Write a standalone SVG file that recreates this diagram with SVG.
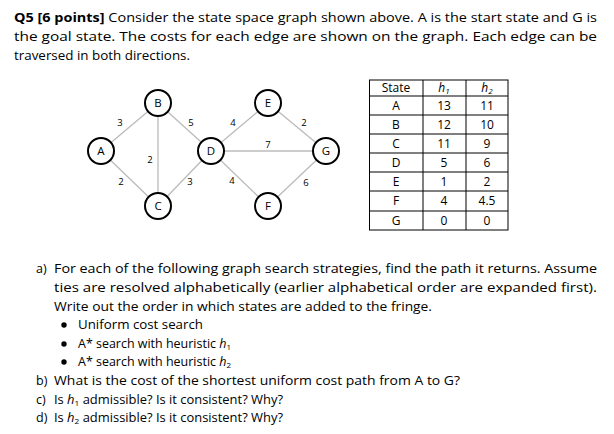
<svg xmlns="http://www.w3.org/2000/svg" width="614" height="434" viewBox="0 0 614 434">
<style>
text{font-family:"Open Sans","Liberation Sans",sans-serif;fill:#000}
.p{font-size:12.5px}
.n circle{fill:#fff;stroke:#000;stroke-width:2}
.n text{font-size:11.5px;text-anchor:middle}
.e line{stroke:#bbb;stroke-width:1.3}
.w{font-size:9.5px;text-anchor:middle}
.t{font-size:12px;text-anchor:middle}
.g line{stroke:#000;stroke-width:1}
</style>
<rect width="614" height="434" fill="#fff"/>
<text class="p" x="14" y="22" textLength="583" lengthAdjust="spacingAndGlyphs"><tspan font-weight="bold">Q5 [6 points]</tspan> Consider the state space graph shown above. A is the start state and G is</text>
<text class="p" x="14" y="41" textLength="583" lengthAdjust="spacingAndGlyphs">the goal state. The costs for each edge are shown on the graph. Each edge can be</text>
<text class="p" x="14" y="60" textLength="176" lengthAdjust="spacingAndGlyphs">traversed in both directions.</text>
<g id="connectors" class="e">
<line x1="101" y1="151" x2="158" y2="103"/>
<line x1="101" y1="151" x2="158" y2="206"/>
<line x1="158" y1="103" x2="158" y2="206"/>
<line x1="158" y1="103" x2="211" y2="151"/>
<line x1="158" y1="206" x2="211" y2="151"/>
<line x1="211" y1="151" x2="268" y2="103"/>
<line x1="211" y1="151" x2="326" y2="151"/>
<line x1="211" y1="151" x2="268" y2="206"/>
<line x1="268" y1="103" x2="326" y2="151"/>
<line x1="268" y1="206" x2="326" y2="151"/>
</g>
<g>
<text class="w" x="120" y="126">3</text>
<text class="w" x="121" y="185">2</text>
<text class="w" x="150" y="163">2</text>
<text class="w" x="191" y="126">5</text>
<text class="w" x="190" y="185">3</text>
<text class="w" x="233" y="126">4</text>
<text class="w" x="268" y="148">7</text>
<text class="w" x="232" y="184">4</text>
<text class="w" x="304" y="126">2</text>
<text class="w" x="306" y="186">6</text>
</g>
<g id="A" class="n"><circle cx="101" cy="151" r="13"/><text x="101" y="155">A</text></g>
<g id="B" class="n"><circle cx="158" cy="103" r="13"/><text x="158" y="107">B</text></g>
<g id="C" class="n"><circle cx="158" cy="206" r="13"/><text x="158" y="210">C</text></g>
<g id="D" class="n"><circle cx="211" cy="151" r="13"/><text x="211" y="155">D</text></g>
<g id="E" class="n"><circle cx="268" cy="103" r="13"/><text x="268" y="107">E</text></g>
<g id="F" class="n"><circle cx="268" cy="206" r="13"/><text x="268" y="210">F</text></g>
<g id="G" class="n"><circle cx="326" cy="151" r="13"/><text x="326" y="155">G</text></g>
<g id="table" class="g">
<rect x="369.5" y="80" width="138.5" height="150" fill="none" stroke="#000"/>
<line x1="423" y1="80" x2="423" y2="230"/>
<line x1="466" y1="80" x2="466" y2="230"/>
<line x1="369.5" y1="96" x2="508" y2="96"/>
<line x1="369.5" y1="115" x2="508" y2="115"/>
<line x1="369.5" y1="134" x2="508" y2="134"/>
<line x1="369.5" y1="153" x2="508" y2="153"/>
<line x1="369.5" y1="172" x2="508" y2="172"/>
<line x1="369.5" y1="191" x2="508" y2="191"/>
<line x1="369.5" y1="211" x2="508" y2="211"/>
<text class="t" x="396" y="92">State</text>
<text class="t" x="444" y="92" font-style="italic">h<tspan font-size="8" dy="2">1</tspan></text>
<text class="t" x="487" y="92" font-style="italic">h<tspan font-size="8" dy="2">2</tspan></text>
<text class="t" x="396" y="110">A</text><text class="t" x="444" y="110">13</text><text class="t" x="487" y="110">11</text>
<text class="t" x="396" y="129">B</text><text class="t" x="444" y="129">12</text><text class="t" x="487" y="129">10</text>
<text class="t" x="396" y="148">C</text><text class="t" x="444" y="148">11</text><text class="t" x="487" y="148">9</text>
<text class="t" x="396" y="167">D</text><text class="t" x="444" y="167">5</text><text class="t" x="487" y="167">6</text>
<text class="t" x="396" y="186">E</text><text class="t" x="444" y="186">1</text><text class="t" x="487" y="186">2</text>
<text class="t" x="396" y="205">F</text><text class="t" x="444" y="205">4</text><text class="t" x="487" y="205">4.5</text>
<text class="t" x="396" y="225">G</text><text class="t" x="444" y="225">0</text><text class="t" x="487" y="225">0</text>
</g>
<text class="p" x="36" y="273">a)</text><text class="p" x="54" y="273" textLength="543" lengthAdjust="spacingAndGlyphs">For each of the following graph search strategies, find the path it returns. Assume</text>
<text class="p" x="54" y="292" textLength="543" lengthAdjust="spacingAndGlyphs">ties are resolved alphabetically (earlier alphabetical order are expanded first).</text>
<text class="p" x="54" y="311" textLength="378" lengthAdjust="spacingAndGlyphs">Write out the order in which states are added to the fringe.</text>
<circle cx="64" cy="325" r="2.7"/><text class="p" x="78" y="329" textLength="125" lengthAdjust="spacingAndGlyphs">Uniform cost search</text>
<circle cx="64" cy="344" r="2.7"/><text class="p" x="78" y="348" textLength="153" lengthAdjust="spacingAndGlyphs">A* search with heuristic <tspan font-style="italic">h</tspan><tspan font-size="8" dy="2">1</tspan></text>
<circle cx="64" cy="362" r="2.7"/><text class="p" x="78" y="366" textLength="153" lengthAdjust="spacingAndGlyphs">A* search with heuristic <tspan font-style="italic">h</tspan><tspan font-size="8" dy="2">2</tspan></text>
<text class="p" x="36" y="385">b)</text><text class="p" x="54" y="385" textLength="406" lengthAdjust="spacingAndGlyphs">What is the cost of the shortest uniform cost path from A to G?</text>
<text class="p" x="36" y="404">c)</text><text class="p" x="54" y="404" textLength="229" lengthAdjust="spacingAndGlyphs">Is <tspan font-style="italic">h</tspan><tspan font-size="8" dy="2">1</tspan><tspan dy="-2"> admissible? Is it consistent? Why?</tspan></text>
<text class="p" x="36" y="422">d)</text><text class="p" x="54" y="422" textLength="229" lengthAdjust="spacingAndGlyphs">Is <tspan font-style="italic">h</tspan><tspan font-size="8" dy="2">2</tspan><tspan dy="-2"> admissible? Is it consistent? Why?</tspan></text>
</svg>
